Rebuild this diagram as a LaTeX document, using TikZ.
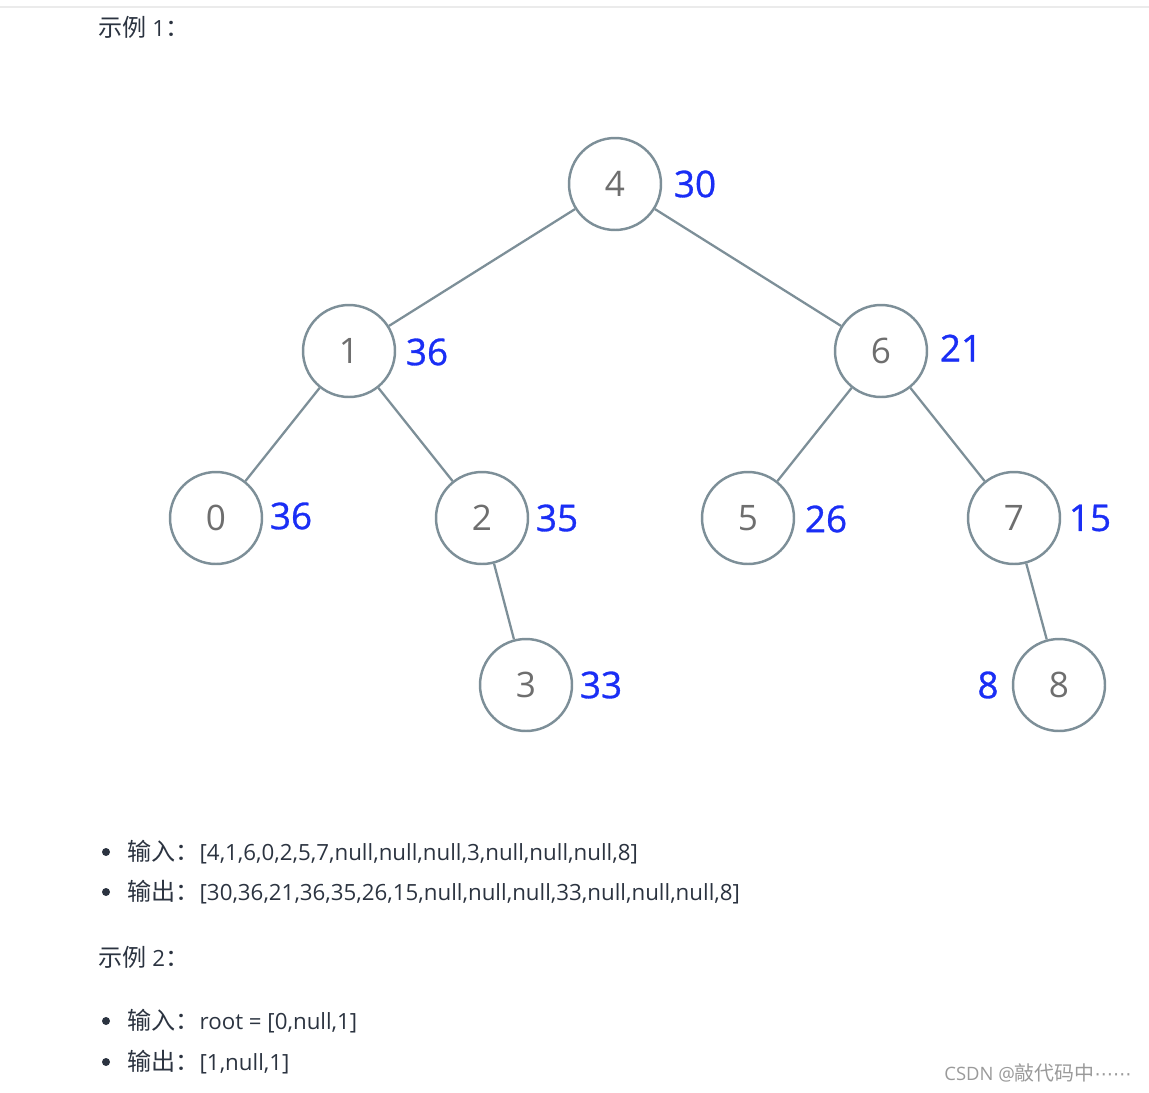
\documentclass[tikz,border=0pt]{standalone}
\usepackage{fontspec}
\setmainfont{Open Sans}
\newfontfamily\cjk{Noto Sans CJK SC}[Scale=1.08]
\newfontfamily\sumfont{Open Sans}[FakeBold=0.8]
\newfontfamily\dotfont{DejaVu Sans}
\usetikzlibrary{positioning}
\definecolor{ringgray}{HTML}{7D8F98}
\definecolor{keygray}{HTML}{6E6E6E}
\definecolor{sumblue}{HTML}{1A2EF5}
\definecolor{txtdark}{HTML}{2B3340}
\definecolor{markgray}{HTML}{9A9A9A}

\tikzset{
  treenode/.style={circle, draw=ringgray, line width=1.4pt, minimum size=1.84cm,
    inner sep=0pt, text=keygray, font=\fontsize{20}{24}\selectfont},
  sumlabel/.style={text=sumblue, font=\sumfont\fontsize{21}{25}\selectfont, inner sep=0pt},
  treeline/.style={draw=ringgray, line width=1.3pt},
  bodytext/.style={anchor=west, text=txtdark, inner sep=0pt,
    font=\fontsize{12.7}{16}\selectfont},
}

\begin{document}
\begin{tikzpicture}[x=0.02cm, y=-0.02cm]
  \useasboundingbox (0,0) rectangle (1149,1092);
  \draw[black!8, line width=0.6pt] (0,7) -- (1149,7);

  % example 1 title
  \node[bodytext] (title1) at (98,27) {{\cjk 示例} 1{\cjk ：}};

  % tree nodes
  \node[treenode] (n4) at (615,184) {4};
  \node[treenode] (n1) at (349,351) {1};
  \node[treenode] (n6) at (881,351) {6};
  \node[treenode] (n0) at (216,518) {0};
  \node[treenode] (n2) at (482,518) {2};
  \node[treenode] (n5) at (748,518) {5};
  \node[treenode] (n7) at (1014,518) {7};
  \node[treenode] (n3) at (526,685) {3};
  \node[treenode] (n8) at (1059,685) {8};

  % edges
  \draw[treeline] (n4) -- (n1);
  \draw[treeline] (n4) -- (n6);
  \draw[treeline] (n1) -- (n0);
  \draw[treeline] (n1) -- (n2);
  \draw[treeline] (n6) -- (n5);
  \draw[treeline] (n6) -- (n7);
  \draw[treeline] (n2) -- (n3);
  \draw[treeline] (n7) -- (n8);

  % sums
  \node[sumlabel] (s4) at (695,184) {30};
  \node[sumlabel] (s1) at (427,352) {36};
  \node[sumlabel] (s6) at (961,348) {21};
  \node[sumlabel] (s0) at (291,516) {36};
  \node[sumlabel] (s2) at (557,518) {35};
  \node[sumlabel] (s5) at (826,519) {26};
  \node[sumlabel] (s7) at (1090,518) {15};
  \node[sumlabel] (s3) at (601,685) {33};
  \node[sumlabel] (s8) at (988,685) {8};

  % example 1 lists
  \fill[txtdark] (106,852) circle (0.08cm);
  \node[bodytext] (in1) at (127,852) {{\cjk 输入：}[4,1,6,0,2,5,7,null,null,null,3,null,null,null,8]};
  \fill[txtdark] (106,892) circle (0.08cm);
  \node[bodytext] (out1) at (127,892) {{\cjk 输出：}[30,36,21,36,35,26,15,null,null,null,33,null,null,null,8]};

  % example 2
  \node[bodytext] (title2) at (98,957) {{\cjk 示例} 2{\cjk ：}};
  \fill[txtdark] (106,1021) circle (0.08cm);
  \node[bodytext] (in2) at (127,1021) {{\cjk 输入：}root = [0,null,1]};
  \fill[txtdark] (106,1062) circle (0.08cm);
  \node[bodytext] (out2) at (127,1062) {{\cjk 输出：}[1,null,1]};

  % watermark
  \node[anchor=west, inner sep=0pt, text=markgray, font=\fontsize{10.5}{12}\selectfont]
    (mark) at (944,1073) {CSDN @{\cjk 敲代码中}{\dotfont ⋯⋯}};
\end{tikzpicture}
\end{document}
